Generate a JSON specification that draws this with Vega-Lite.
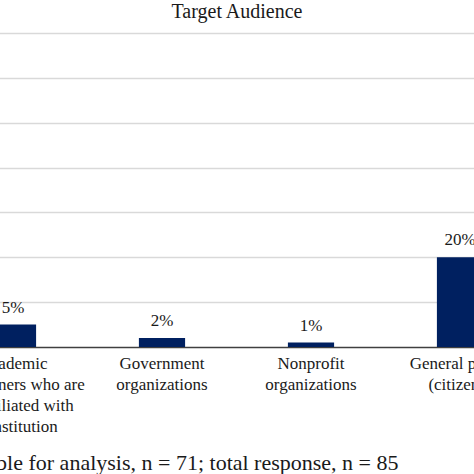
{
  "$schema": "https://vega.github.io/schema/vega-lite/v6.json",
  "width": 474,
  "height": 314,
  "autosize": "none",
  "padding": {"top": 33, "left": 0, "right": 0, "bottom": 127},
  "title": {"text": "Target Audience", "font": "Liberation Serif", "fontSize": 20, "fontWeight": "normal", "color": "#1a1a1a", "offset": 11},
  "data": {"values": [
    {"audience": "Academic|practitioners who are|not affiliated with|an institution", "share": 0.05},
    {"audience": "Government|organizations", "share": 0.02},
    {"audience": "Nonprofit|organizations", "share": 0.01},
    {"audience": "General public|(citizens)", "share": 0.20}
  ]},
  "encoding": {
    "x": {
      "field": "audience", "type": "nominal", "sort": null,
      "scale": {"range": [-61.5, 534.5], "paddingInner": 0.69, "paddingOuter": 0.345},
      "axis": {
        "title": "Available for analysis, n = 71; total response, n = 85",
        "titleFont": "Liberation Serif", "titleFontSize": 22, "titleFontWeight": "normal", "titleColor": "#1a1a1a",
        "titleX": 398, "titleY": 122, "titleAlign": "right", "titleBaseline": "alphabetic",
        "labelAngle": 0, "labelExpr": "split(datum.label, '|')",
        "labelFont": "Liberation Serif", "labelFontSize": 17, "labelColor": "#1a1a1a",
        "labelLineHeight": 21, "labelPadding": 8, "labelLimit": 400, "labelOverlap": false, "labelBound": false,
        "ticks": false, "domainColor": "#404040", "domainWidth": 1.5, "grid": false
      }
    },
    "y": {
      "field": "share", "type": "quantitative",
      "scale": {"domain": [0, 0.7], "nice": false},
      "axis": {"values": [0.1, 0.2, 0.3, 0.4, 0.5, 0.6, 0.7], "labels": false, "ticks": false, "domain": false, "title": null, "labelOverlap": false, "gridColor": "#d9d9d9", "gridWidth": 1.5}
    }
  },
  "layer": [
    {"mark": {"type": "bar", "color": "#002060"}},
    {"mark": {"type": "text", "dy": -12, "baseline": "alphabetic", "font": "Liberation Serif", "fontSize": 17, "color": "#1a1a1a"},
     "encoding": {"text": {"field": "share", "type": "quantitative", "format": ".0%"}}}
  ],
  "config": {"view": {"stroke": null}}
}
